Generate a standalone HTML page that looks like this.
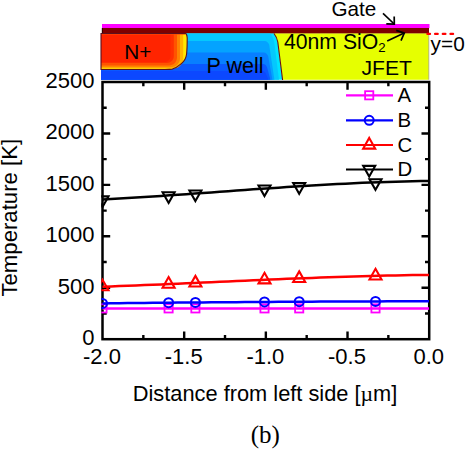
<!DOCTYPE html>
<html><head><meta charset="utf-8">
<style>
html,body{margin:0;padding:0;background:#fff;width:465px;height:451px;overflow:hidden}
svg{display:block}
text{font-family:"Liberation Sans",sans-serif;fill:#000}
.serif{font-family:"Liberation Serif",serif}
</style></head><body>
<svg width="465" height="451" viewBox="0 0 465 451">
<defs>
  <clipPath id="plotclip"><rect x="101.3" y="81" width="327.9" height="259"/></clipPath>
</defs>
<!-- DEV -->
<rect x="102" y="24" width="327.5" height="4.2" fill="#ff00ff"/>
<rect x="102" y="28" width="327" height="5.70" fill="#7d0000"/>
<rect x="101.8" y="28" width="1.2" height="5.50" fill="#300"/>
<path d="M101.0,33.5 H274.00 C276.00,36 277.20,39 277.80,42 C278.60,48 279.60,56 280.60,64 C281.30,70 282.00,75 282.60,79.7 H101.0 Z" fill="#00e4ff"/>
<path d="M101.0,33.5 H270.40 C272.40,36 273.60,39 274.20,42 C275.00,48 276.00,56 277.00,64 C277.70,70 278.40,75 279.00,79.7 H101.0 Z" fill="#05c8fd"/>
<path d="M101.0,79.7 V41.0 H264.60 C266.80,41.0 268.6,42.80 269.20,45.00 L274.4,79.7 Z" fill="#04a3ff"/>
<path d="M101.0,79.7 V52.5 H263.60 C265.80,52.5 267.6,54.30 268.20,56.50 L272.4,79.7 Z" fill="#087fff"/>
<path d="M101.0,79.7 V64.0 H263.10 C265.03,64.0 266.6,65.58 267.12,67.50 L270.4,79.7 Z" fill="#0a58ff"/>
<path d="M101.0,79.7 V71.0 H262.60 C264.25,71.0 265.6,72.35 266.05,74.00 L268.4,79.7 Z" fill="#0c48ff"/>
<path d="M274,33.5 H428.7 V79.7 H282.6 L282.6,80 C282,75 281.3,70 280.6,64 C279.6,56 278.6,48 277.8,42 C277.2,39 276,36 274,33.5 Z" fill="#e6ff00"/>
<path d="M274,33.5 C276,36 277.2,39 277.8,42 C278.6,48 279.6,56 280.6,64 C281.3,70 282,75 282.6,80" fill="none" stroke="#6a1010" stroke-width="1.1"/>
<rect x="428.50" y="33.5" width="0.7" height="46.20" fill="#9a9a70"/>
<path d="M101,33.5 H185.8 C186.8,34.5 187.2,36 187.2,38 C187.2,44 187,50 186.6,54 C186.2,57 184,61.5 181.4,63.6 C179,65.6 176,67.9 172.4,69.1 C170,69.5 167,69.5 165,69.5 H101 Z" fill="#ffe800"/>
<path d="M101.0,33.5 H183.2 V58.50 C183.2,64.00 178.70,68.5 173.20,68.5 H101.0 Z" fill="#ffb400"/>
<path d="M101.0,33.5 H180.0 V58.20 C180.0,63.15 175.95,67.2 171.00,67.2 H101.0 Z" fill="#ff8200"/>
<path d="M101.0,33.5 H177.0 V57.40 C177.0,61.80 173.40,65.4 169.00,65.4 H101.0 Z" fill="#ff5400"/>
<path d="M101.0,33.5 H173.8 V56.00 C173.8,59.85 170.65,63.0 166.80,63.0 H101.0 Z" fill="#ff3000"/>
<path d="M101.0,33.5 H170.5 V56.00 C170.5,59.30 167.80,62.0 164.50,62.0 H101.0 Z" fill="#ff2400"/>
<rect x="101" y="33.5" width="84" height="1.3" fill="#ff4800" opacity="0.8"/>
<path d="M101,33.5 H185.8 C186.8,34.5 187.2,36 187.2,38 C187.2,44 187,50 186.6,54 C186.2,57 184,61.5 181.4,63.6 C179,65.6 176,67.9 172.4,69.1 C170,69.5 167,69.5 165,69.5 H101 Z" fill="none" stroke="#5a1020" stroke-width="1.1"/>
<!-- /DEV -->

<!-- labels on device -->
<text x="124.2" y="58.7" font-size="20.8">N+</text>
<text x="206.6" y="73" font-size="21.5">P well</text>
<text x="361.5" y="75" font-size="21.1">JFET</text>
<text x="284" y="49.4" font-size="21.2">40nm SiO<tspan font-size="13.2" dy="2.6">2</tspan></text>
<text x="331.5" y="15.8" font-size="20.7">Gate</text>
<text x="430.6" y="51.2" font-size="20.8">y=0</text>
<!-- arrows -->
<g stroke="#000" stroke-width="1.7" fill="none" stroke-linejoin="miter">
  <path d="M383,13.3 L394.2,24"/><path d="M386.3,23.9 L394.3,24.1 L394.2,16.4"/>
  <path d="M387.2,40.9 L404.2,33.1"/><path d="M396.2,30.4 L404.3,33.1 L401,40.6"/>
</g>
<!-- red dashed y=0 -->
<path d="M427.4,33.9 H454" stroke="#ff0000" stroke-width="2.3" stroke-dasharray="2.6,5.1" stroke-linecap="round" fill="none"/>

<!-- PLOT -->
<path d="M143.34,339.2 V335.00 M143.34,82.0 V86.20 M184.18,339.2 V331.50 M184.18,82.0 V89.70 M225.01,339.2 V335.00 M225.01,82.0 V86.20 M265.85,339.2 V331.50 M265.85,82.0 V89.70 M306.69,339.2 V335.00 M306.69,82.0 V86.20 M347.52,339.2 V331.50 M347.52,82.0 V89.70 M388.36,339.2 V335.00 M388.36,82.0 V86.20 M102.5,313.48 H106.70 M429.2,313.48 H425.00 M102.5,287.76 H110.20 M429.2,287.76 H421.50 M102.5,262.04 H106.70 M429.2,262.04 H425.00 M102.5,236.32 H110.20 M429.2,236.32 H421.50 M102.5,210.60 H106.70 M429.2,210.60 H425.00 M102.5,184.88 H110.20 M429.2,184.88 H421.50 M102.5,159.16 H106.70 M429.2,159.16 H425.00 M102.5,133.44 H110.20 M429.2,133.44 H421.50 M102.5,107.72 H106.70 M429.2,107.72 H425.00" stroke="#000" stroke-width="2.4" fill="none"/>
<rect x="102.5" y="82.0" width="326.70" height="257.20" fill="none" stroke="#000" stroke-width="2.5"/>
<g clip-path="url(#plotclip)">
<path d="M102.50,308.40 L110.88,308.40 L119.25,308.40 L127.63,308.40 L136.01,308.40 L144.38,308.40 L152.76,308.40 L161.14,308.40 L169.52,308.40 L177.89,308.40 L186.27,308.40 L194.65,308.40 L203.02,308.40 L211.40,308.40 L219.78,308.40 L228.15,308.40 L236.53,308.40 L244.91,308.40 L253.28,308.40 L261.66,308.40 L270.04,308.40 L278.42,308.40 L286.79,308.40 L295.17,308.40 L303.55,308.40 L311.92,308.40 L320.30,308.40 L328.68,308.40 L337.05,308.40 L345.43,308.40 L353.81,308.40 L362.18,308.40 L370.56,308.40 L378.94,308.40 L387.32,308.40 L395.69,308.40 L404.07,308.40 L412.45,308.40 L420.82,308.40 L429.20,308.40" stroke="#ff00ff" stroke-width="2.5" fill="none"/>
<rect x="98.40" y="304.30" width="8.2" height="8.2" fill="none" stroke="#ff00ff" stroke-width="1.8"/>
<rect x="164.50" y="304.30" width="8.2" height="8.2" fill="none" stroke="#ff00ff" stroke-width="1.8"/>
<rect x="191.30" y="304.30" width="8.2" height="8.2" fill="none" stroke="#ff00ff" stroke-width="1.8"/>
<rect x="260.40" y="304.30" width="8.2" height="8.2" fill="none" stroke="#ff00ff" stroke-width="1.8"/>
<rect x="295.10" y="304.30" width="8.2" height="8.2" fill="none" stroke="#ff00ff" stroke-width="1.8"/>
<rect x="371.40" y="304.30" width="8.2" height="8.2" fill="none" stroke="#ff00ff" stroke-width="1.8"/>
<path d="M102.50,303.40 L110.88,303.31 L119.25,303.22 L127.63,303.12 L136.01,303.04 L144.38,302.95 L152.76,302.86 L161.14,302.78 L169.52,302.70 L177.89,302.62 L186.27,302.55 L194.65,302.47 L203.02,302.40 L211.40,302.33 L219.78,302.26 L228.15,302.20 L236.53,302.13 L244.91,302.07 L253.28,302.01 L261.66,301.96 L270.04,301.90 L278.42,301.85 L286.79,301.80 L295.17,301.75 L303.55,301.70 L311.92,301.66 L320.30,301.62 L328.68,301.58 L337.05,301.54 L345.43,301.50 L353.81,301.47 L362.18,301.44 L370.56,301.41 L378.94,301.38 L387.32,301.36 L395.69,301.33 L404.07,301.31 L412.45,301.29 L420.82,301.28 L429.20,301.26" stroke="#0000ff" stroke-width="2.5" fill="none"/>
<circle cx="102.50" cy="303.40" r="4.5" fill="none" stroke="#0000ff" stroke-width="2"/>
<circle cx="168.60" cy="302.71" r="4.5" fill="none" stroke="#0000ff" stroke-width="2"/>
<circle cx="195.40" cy="302.47" r="4.5" fill="none" stroke="#0000ff" stroke-width="2"/>
<circle cx="264.50" cy="301.94" r="4.5" fill="none" stroke="#0000ff" stroke-width="2"/>
<circle cx="299.20" cy="301.73" r="4.5" fill="none" stroke="#0000ff" stroke-width="2"/>
<circle cx="375.50" cy="301.39" r="4.5" fill="none" stroke="#0000ff" stroke-width="2"/>
<path d="M102.50,286.72 L110.88,286.41 L119.25,286.10 L127.63,285.78 L136.01,285.45 L144.38,285.10 L152.76,284.76 L161.14,284.40 L169.52,284.04 L177.89,283.67 L186.27,283.30 L194.65,282.93 L203.02,282.55 L211.40,282.17 L219.78,281.80 L228.15,281.42 L236.53,281.04 L244.91,280.67 L253.28,280.30 L261.66,279.93 L270.04,279.57 L278.42,279.22 L286.79,278.87 L295.17,278.53 L303.55,278.20 L311.92,277.88 L320.30,277.56 L328.68,277.26 L337.05,276.98 L345.43,276.70 L353.81,276.44 L362.18,276.20 L370.56,275.97 L378.94,275.76 L387.32,275.56 L395.69,275.39 L404.07,275.23 L412.45,275.10 L420.82,274.99 L429.20,274.89" stroke="#ff0000" stroke-width="2.5" fill="none"/>
<path d="M102.50,279.72 L108.50,290.32 L96.50,290.32 Z" fill="none" stroke="#ff0000" stroke-width="2.1"/>
<path d="M168.60,277.08 L174.60,287.68 L162.60,287.68 Z" fill="none" stroke="#ff0000" stroke-width="2.1"/>
<path d="M195.40,275.89 L201.40,286.49 L189.40,286.49 Z" fill="none" stroke="#ff0000" stroke-width="2.1"/>
<path d="M264.50,272.81 L270.50,283.41 L258.50,283.41 Z" fill="none" stroke="#ff0000" stroke-width="2.1"/>
<path d="M299.20,271.37 L305.20,281.97 L293.20,281.97 Z" fill="none" stroke="#ff0000" stroke-width="2.1"/>
<path d="M375.50,268.84 L381.50,279.44 L369.50,279.44 Z" fill="none" stroke="#ff0000" stroke-width="2.1"/>
<path d="M102.50,199.50 L110.88,199.05 L119.25,198.57 L127.63,198.07 L136.01,197.56 L144.38,197.02 L152.76,196.48 L161.14,195.92 L169.52,195.35 L177.89,194.77 L186.27,194.18 L194.65,193.58 L203.02,192.98 L211.40,192.38 L219.78,191.77 L228.15,191.17 L236.53,190.56 L244.91,189.96 L253.28,189.37 L261.66,188.78 L270.04,188.20 L278.42,187.63 L286.79,187.07 L295.17,186.53 L303.55,186.00 L311.92,185.49 L320.30,184.99 L328.68,184.52 L337.05,184.06 L345.43,183.63 L353.81,183.23 L362.18,182.85 L370.56,182.50 L378.94,182.18 L387.32,181.89 L395.69,181.64 L404.07,181.42 L412.45,181.23 L420.82,181.09 L429.20,180.98" stroke="#000000" stroke-width="2.5" fill="none"/>
<path d="M102.50,207.00 L108.50,196.40 L96.50,196.40 Z" fill="none" stroke="#000000" stroke-width="2.1"/>
<path d="M168.60,202.91 L174.60,192.31 L162.60,192.31 Z" fill="none" stroke="#000000" stroke-width="2.1"/>
<path d="M195.40,201.03 L201.40,190.43 L189.40,190.43 Z" fill="none" stroke="#000000" stroke-width="2.1"/>
<path d="M264.50,196.08 L270.50,185.48 L258.50,185.48 Z" fill="none" stroke="#000000" stroke-width="2.1"/>
<path d="M299.20,193.77 L305.20,183.17 L293.20,183.17 Z" fill="none" stroke="#000000" stroke-width="2.1"/>
<path d="M375.50,189.81 L381.50,179.21 L369.50,179.21 Z" fill="none" stroke="#000000" stroke-width="2.1"/>
</g>
<path d="M346,95.3 H393" stroke="#ff00ff" stroke-width="2.2"/>
<rect x="365.10" y="91.20" width="8.2" height="8.2" fill="none" stroke="#ff00ff" stroke-width="1.8"/>
<text x="397.5" y="102.2" font-size="20.4">A</text>
<path d="M346,120.3 H393" stroke="#0000ff" stroke-width="2.2"/>
<circle cx="369.20" cy="120.30" r="4.5" fill="none" stroke="#0000ff" stroke-width="2"/>
<text x="397.5" y="127.2" font-size="20.4">B</text>
<path d="M346,145.0 H393" stroke="#ff0000" stroke-width="2.2"/>
<path d="M369.20,138.00 L375.20,148.60 L363.20,148.60 Z" fill="none" stroke="#ff0000" stroke-width="2.1"/>
<text x="397.5" y="151.5" font-size="20.4">C</text>
<path d="M346,169.5 H393" stroke="#000000" stroke-width="2.2"/>
<path d="M369.20,176.50 L375.20,165.90 L363.20,165.90 Z" fill="none" stroke="#000000" stroke-width="2.1"/>
<text x="397.5" y="175.6" font-size="20.4">D</text>
<text x="94.4" y="345.20" font-size="22" text-anchor="end">0</text>
<text x="94.4" y="293.76" font-size="22" text-anchor="end">500</text>
<text x="94.4" y="242.32" font-size="22" text-anchor="end">1000</text>
<text x="94.4" y="190.88" font-size="22" text-anchor="end">1500</text>
<text x="94.4" y="139.44" font-size="22" text-anchor="end">2000</text>
<text x="94.4" y="88.00" font-size="22" text-anchor="end">2500</text>
<text x="102.00" y="364" font-size="22" text-anchor="middle">-2.0</text>
<text x="183.68" y="364" font-size="22" text-anchor="middle">-1.5</text>
<text x="265.35" y="364" font-size="22" text-anchor="middle">-1.0</text>
<text x="347.02" y="364" font-size="22" text-anchor="middle">-0.5</text>
<text x="428.70" y="364" font-size="22" text-anchor="middle">0.0</text>
<text x="265.05" y="400.6" font-size="21.8" text-anchor="middle">Distance from left side [<tspan style="font-family:&quot;Liberation Serif&quot;,serif">µ</tspan>m]</text>
<text transform="translate(17.4,217.7) rotate(-90)" x="0" y="0" font-size="22.2" text-anchor="middle">Temperature [K]</text>
<text class="serif" x="265.3" y="443.2" font-size="25" text-anchor="middle">(b)</text>
<!-- /PLOT -->
</svg>
</body></html>
